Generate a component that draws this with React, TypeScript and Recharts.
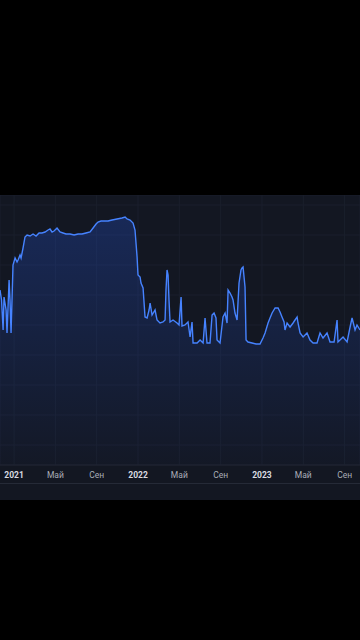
import { AreaChart, Area, XAxis, YAxis, CartesianGrid } from 'recharts'

// x position in months from Jan 2021, one entry per weekly point
const MONTHS = [
  -1.36, -1.21, -1.06, -0.97, -0.77, -0.68, -0.48, -0.39, -0.29, -0.1,
  0.1, 0.29, 0.39, 0.58, 0.68, 0.87, 1.06, 1.26, 1.55, 1.84,
  2.13, 2.42, 2.71, 3.0, 3.29, 3.48, 3.68, 3.87, 4.16, 4.45,
  4.74, 5.03, 5.42, 5.81, 6.2, 6.58, 6.97, 7.36, 7.65, 7.94,
  8.13, 8.42, 8.71, 9.1, 9.49, 9.97, 10.45, 10.75, 10.94, 11.23,
  11.52, 11.71, 11.91, 12.0, 12.2, 12.29, 12.49, 12.68, 12.88, 13.07,
  13.17, 13.36, 13.65, 13.84, 14.13, 14.42, 14.62, 14.71, 14.81, 14.91,
  15.0, 15.1, 15.39, 15.78, 15.97, 16.17, 16.26, 16.55, 16.84, 17.04,
  17.23, 17.33, 17.72, 18.01, 18.3, 18.49, 18.68, 18.97, 19.17, 19.36,
  19.55, 19.65, 19.94, 20.23, 20.43, 20.62, 20.72, 20.91, 21.1, 21.2,
  21.39, 21.59, 21.78, 21.97, 22.07, 22.17, 22.36, 22.46, 22.65, 23.04,
  23.43, 23.81, 24.1, 24.3, 24.59, 24.78, 24.98, 25.27, 25.56, 25.75,
  25.94, 26.14, 26.23, 26.43, 26.72, 27.01, 27.2, 27.4, 27.49, 27.69,
  27.98, 28.36, 28.65, 28.95, 29.33, 29.62, 29.91, 30.3, 30.59, 30.98,
  31.27, 31.36, 31.85, 32.24, 32.53, 32.72, 32.82, 33.01, 33.2, 33.49,
]

const VALUES = [
  175, 165, 135, 168, 155, 132, 185, 165, 132, 200,
  207, 203, 205, 210, 207, 217, 228, 230, 229, 231,
  229, 232, 232, 233, 235, 236, 233, 234, 237, 233,
  232, 231, 231, 230, 231, 231, 232, 233, 237, 241,
  243, 244, 244, 244, 245, 246, 247, 248, 246, 245,
  242, 235, 208, 190, 188, 182, 177, 148, 147, 155,
  162, 150, 155, 145, 142, 143, 145, 175, 195, 190,
  165, 143, 145, 142, 140, 168, 139, 140, 143, 128,
  143, 122, 122, 125, 122, 147, 122, 122, 150, 152,
  147, 125, 122, 148, 152, 142, 175, 172, 168, 165,
  152, 145, 182, 195, 197, 198, 178, 125, 123, 122,
  121, 121, 127, 132, 142, 147, 152, 157, 157, 153,
  148, 143, 135, 142, 138, 142, 145, 148, 142, 132,
  128, 132, 125, 122, 122, 132, 127, 132, 123, 123,
  145, 123, 128, 123, 138, 147, 143, 135, 140, 135,
]

const TICK_MONTHS = [0, 4, 8, 12, 16, 20, 24, 28, 32]
const TICK_LABELS = ['2021', 'Май', 'Сен', '2022', 'Май', 'Сен', '2023', 'Май', 'Сен']
const GRID_VALUES = [20, 50, 80, 110, 140, 170, 200, 230, 260]

const data = MONTHS.map((m, i) => ({ m, v: VALUES[i] }))

function TimeTick({ x, y, payload }: any) {
  const idx = TICK_MONTHS.indexOf(payload.value)
  const label = TICK_LABELS[idx] ?? ''
  const isYear = /^\d+$/.test(label)
  return (
    <text
      x={x}
      y={y + 5}
      textAnchor="middle"
      fontSize={8.5}
      fontFamily="Roboto, 'Noto Sans', sans-serif"
      fontWeight={isYear ? 700 : 400}
      fill={isYear ? '#d9dbe1' : '#a9adb8'}
    >
      {label}
    </text>
  )
}

export default function App() {
  return (
    <div style={{ position: 'fixed', left: 0, top: 0, width: 360, height: 640, background: '#000' }}>
      <div style={{ position: 'absolute', left: 0, top: 195, width: 360, height: 305, background: '#131722' }}>
        <AreaChart width={360} height={305} data={data} margin={{ top: 0, right: 0, bottom: 0, left: 0 }}>
          <defs>
            <linearGradient id="fillBlue" x1="0" y1="0" x2="0" y2="1">
              <stop offset="0%" stopColor="#2962ff" stopOpacity={0.4} />
              <stop offset="100%" stopColor="#2962ff" stopOpacity={0.03} />
            </linearGradient>
          </defs>
          <CartesianGrid stroke="#1a1f2c" strokeWidth={1} />
          <XAxis
            dataKey="m"
            type="number"
            domain={[-1.36, 33.49]}
            ticks={TICK_MONTHS}
            allowDataOverflow
            height={35}
            tick={<TimeTick />}
            tickLine={false}
            axisLine={{ stroke: '#202533' }}
            interval={0}
          />
          <YAxis hide domain={[0, 270]} ticks={GRID_VALUES} allowDataOverflow />
          <Area
            type="linear"
            dataKey="v"
            stroke="#4683ff"
            strokeWidth={1.4}
            fill="url(#fillBlue)"
            isAnimationActive={false}
            dot={false}
            activeDot={false}
          />
        </AreaChart>
        <div style={{ position: 'absolute', left: 0, top: 288, width: 360, height: 1, background: '#252a37' }} />
      </div>
    </div>
  )
}
